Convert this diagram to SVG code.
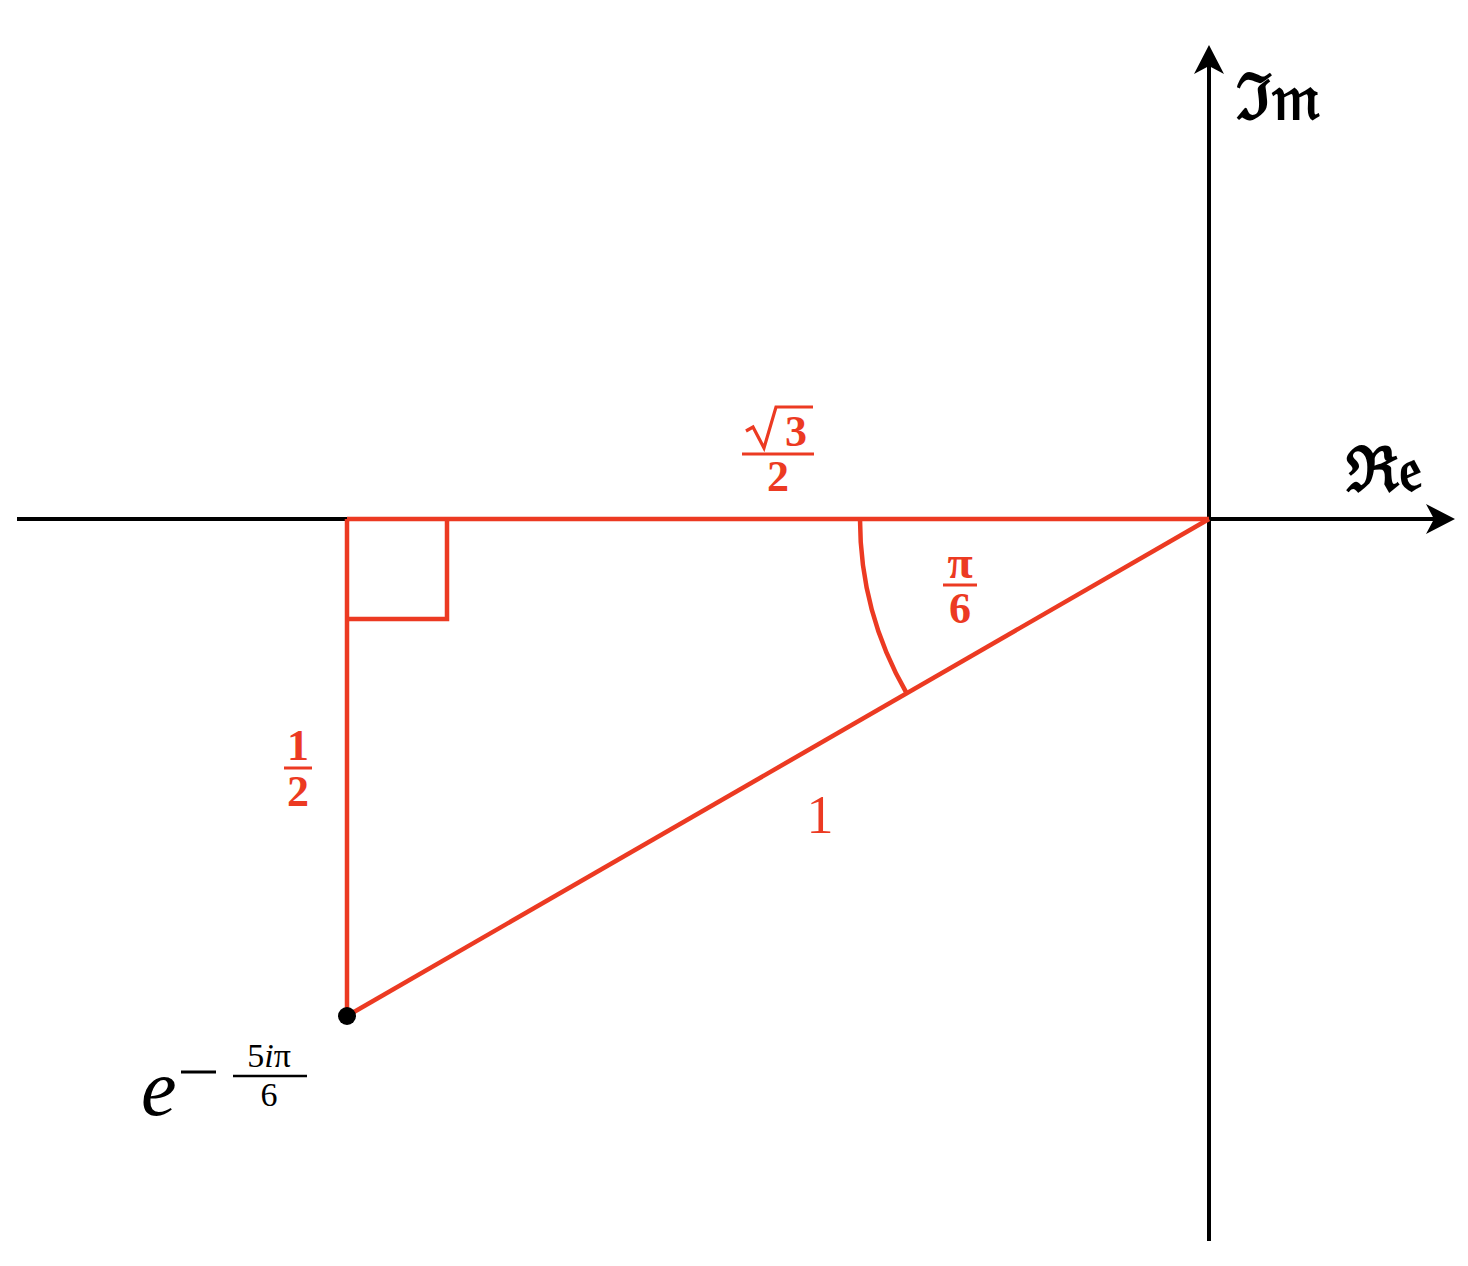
<svg xmlns="http://www.w3.org/2000/svg" width="1468" height="1266" viewBox="0 0 1468 1266">
<style>
.ax{stroke:#000;stroke-width:4;fill:none}
.rd{stroke:#ec3a22;stroke-width:4.5;fill:none}
.rt{fill:#ec3a22;font-family:"Liberation Serif","DejaVu Serif",serif;font-weight:bold;text-anchor:middle}
.bt{fill:#000;font-family:"DejaVu Serif","Liberation Serif",serif;font-weight:bold}
.bar{stroke:#ec3a22;stroke-width:3}
</style>
<rect width="1468" height="1266" fill="#fff"/>
<g id="axes">
<line class="ax" x1="17" y1="519" x2="1440" y2="519"/>
<line class="ax" x1="1209" y1="1241" x2="1209" y2="60"/>
<path d="M1455,519 L1426,504 L1434,519 L1426,534 Z" fill="#000"/>
<path d="M1209,45 L1194,74 L1209,66 L1224,74 Z" fill="#000"/>
</g>
<g id="labels-axes">
<text class="bt" x="1236" y="119" font-size="64">ℑ𝔪</text>
<text class="bt" x="1346" y="491" font-size="62">ℜ𝔢</text>
</g>
<g id="triangle">
<line class="rd" x1="347" y1="519" x2="1209" y2="519"/>
<line class="rd" x1="347" y1="519" x2="347" y2="1016"/>
<line class="rd" x1="347" y1="1016" x2="1209" y2="519"/>
<path class="rd" d="M347,619 H447 V519"/>
<path class="rd" d="M860,519 A349,349 0 0 0 906.8,693.5"/>
</g>
<g id="point">
<circle cx="347" cy="1016" r="9" fill="#000"/>
</g>
<g id="label-sqrt3-2">
<path d="M746,431 L753,427 L764,448 L776,407 H813" fill="none" stroke="#ec3a22" stroke-width="3.2" stroke-linejoin="miter"/>
<text class="rt" x="796" y="446" font-size="44">3</text>
<line class="bar" x1="742" y1="454" x2="814" y2="454"/>
<text class="rt" x="778" y="491" font-size="44">2</text>
</g>
<g id="label-pi6">
<text class="rt" x="960" y="578" font-size="46">π</text>
<line class="bar" x1="943" y1="585" x2="977" y2="585"/>
<text class="rt" x="960" y="623" font-size="44">6</text>
</g>
<g id="label-half">
<text class="rt" x="298" y="760" font-size="44">1</text>
<line class="bar" x1="284" y1="768" x2="312" y2="768"/>
<text class="rt" x="298" y="806" font-size="44">2</text>
</g>
<g id="label-one">
<text x="820" y="833" font-size="54" fill="#ec3a22" font-family="Liberation Serif,serif" text-anchor="middle">1</text>
</g>
<g id="label-point">
<text x="141" y="1115" font-size="80" font-style="italic" font-family="Liberation Serif,serif" fill="#000">e</text>
<line x1="181" y1="1072" x2="216" y2="1072" stroke="#000" stroke-width="3"/>
<text x="269" y="1067" font-size="34" font-family="Liberation Serif,serif" text-anchor="middle" fill="#000">5<tspan font-style="italic">i</tspan>π</text>
<line x1="233" y1="1076" x2="307" y2="1076" stroke="#000" stroke-width="2.5"/>
<text x="269" y="1106" font-size="34" font-family="Liberation Serif,serif" text-anchor="middle" fill="#000">6</text>
</g>
</svg>
